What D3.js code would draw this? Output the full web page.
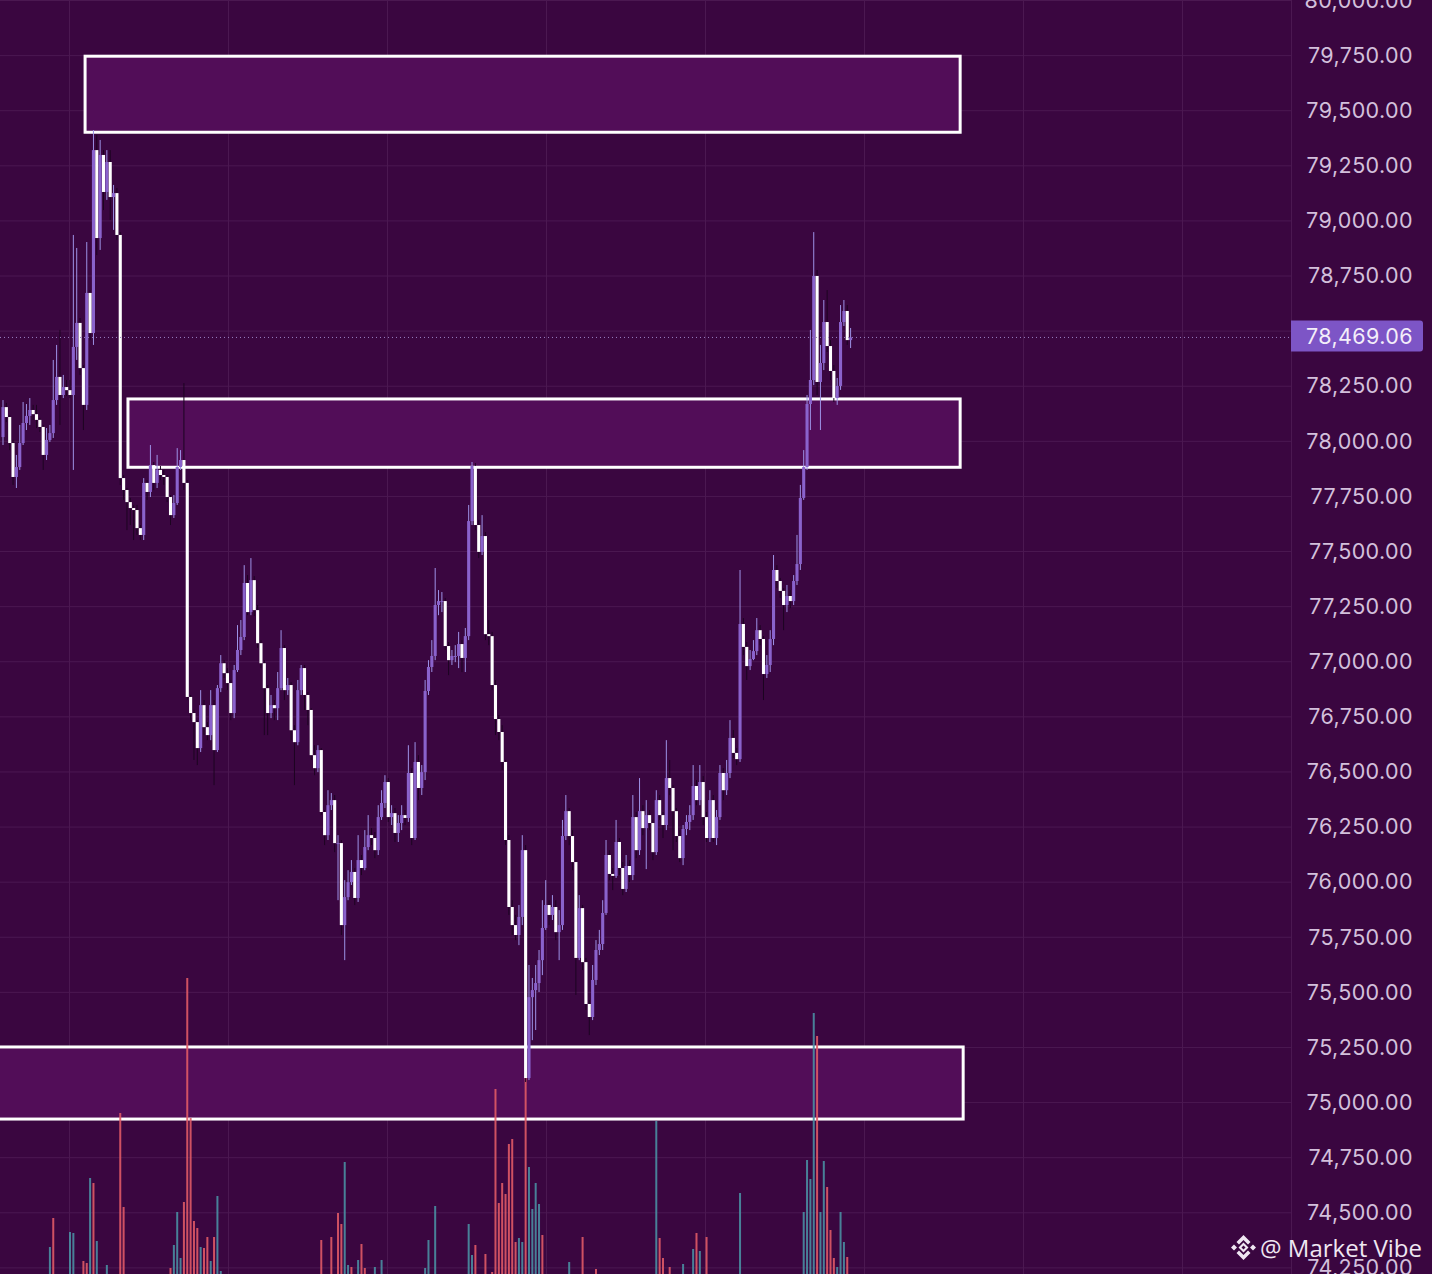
<!DOCTYPE html>
<html>
<head>
<meta charset="utf-8">
<script src="https://cdn.jsdelivr.net/npm/d3@7"></script>
<style>
  html, body { margin: 0; padding: 0; background: #3a0640; overflow: hidden; }
  svg { display: block; }
</style>
</head>
<body>
<div id="chart"></div>
<script>
/*************************/
/* CONSTANTS AND GLOBALS */
/*************************/
const width = 1432;
const height = 1274;
const axisLeft = 1291;      // price scale panel starts here
const plotRight = 1291;

/* price axis ticks */
const tickPrices = [80000, 79750, 79500, 79250, 79000, 78750, 78500, 78250, 78000, 77750,
  77500, 77250, 77000, 76750, 76500, 76250, 76000, 75750, 75500, 75250, 75000, 74750, 74500, 74250];

const lastPrice = 78469.06;
const firstOpen = 78017;

/* candles: close, high, low (open = previous close) */
const closes = [78153, 78108, 77990, 77836, 77881, 77990, 78081, 78113, 78140, 78121,
  78095, 78063, 77936, 78004, 78035, 78185, 78290, 78208, 78244, 78230,
  78208, 78426, 78535, 78330, 78163, 78671, 78489, 79319, 78920, 79297,
  79129, 79265, 79106, 79124, 78934, 77831, 77777, 77722, 77695, 77686,
  77604, 77573, 77809, 77768, 77890, 77809, 77868, 77845, 77836, 77745,
  77663, 77718, 77881, 77913, 77809, 76838, 76765, 76724, 76606, 76801,
  76701, 76665, 76801, 76597, 76878, 76991, 76946, 76901, 76765, 76960,
  77051, 77110, 77355, 77223, 77368, 77232, 77082, 76991, 76878, 76765,
  76801, 76787, 76878, 77060, 76869, 76892, 76687, 76633, 76869, 76969,
  76847, 76779, 76574, 76515, 76597, 76316, 76211, 76347, 76370, 76175,
  76175, 75803, 75930, 75998, 76044, 75926, 76098, 76062, 76157, 76211,
  76198, 76143, 76293, 76357, 76452, 76293, 76311, 76221, 76266, 76302,
  76289, 76493, 76198, 76543, 76425, 76497, 76865, 76974, 77024, 77255,
  77273, 77273, 77069, 77005, 77024, 77024, 77078, 77015, 77114, 77636,
  77886, 77618, 77496, 77568, 77123, 77114, 76892, 76738, 76679, 76543,
  76189, 75885, 75803, 75758, 75840, 76143, 75109, 75476, 75508, 75540,
  75644, 75790, 75894, 75849, 75885, 75771, 75803, 76207, 76320, 76207,
  76089, 75654, 75880, 75635, 75445, 75386, 75554, 75690, 75717, 75858,
  76121, 76035, 76026, 76180, 76062, 75967, 76071, 76030, 76293, 76143,
  76320, 76243, 76302, 76266, 76134, 76370, 76302, 76257, 76470, 76425,
  76320, 76207, 76107, 76239, 76271, 76302, 76434, 76370, 76452, 76293,
  76198, 76370, 76198, 76293, 76493, 76415, 76493, 76652, 76584, 76556,
  77169, 77065, 76978, 77010, 77046, 77141, 77101, 76942, 76983, 77101,
  77414, 77364, 77319, 77255, 77296, 77273, 77364, 77441, 77741, 77881,
  78167, 78276, 78748, 78267, 78353, 78539, 78430, 78317, 78194, 78249,
  78539, 78589, 78457, 78469.06];

const highs = [78185, 78172, 78117, 78004, 77936, 78072, 78176, 78167, 78194, 78163,
  78163, 78104, 78072, 78058, 78072, 78367, 78435, 78503, 78299, 78276,
  78276, 78934, 78875, 78557, 78344, 78902, 78684, 79410, 79388, 79365,
  79319, 79319, 79319, 79161, 79147, 78947, 77845, 77786, 77741, 77709,
  77709, 77618, 77831, 77822, 77981, 77904, 77936, 77886, 77868, 77845,
  77754, 77754, 77967, 77958, 78262, 77822, 76847, 76779, 76733, 76869,
  76824, 76724, 76869, 76824, 76892, 77028, 77005, 76969, 76915, 76983,
  77164, 77187, 77436, 77391, 77468, 77386, 77255, 77096, 77005, 76892,
  76847, 76824, 76951, 77141, 77073, 76924, 76905, 76710, 76915, 76983,
  76983, 76860, 76787, 76619, 76619, 76606, 76325, 76415, 76402, 76393,
  76211, 76189, 76007, 76052, 76098, 76062, 76211, 76121, 76234, 76302,
  76243, 76225, 76347, 76415, 76483, 76470, 76347, 76334, 76302, 76347,
  76325, 76619, 76515, 76633, 76574, 76529, 76915, 77005, 77096, 77423,
  77323, 77314, 77287, 77087, 77051, 77073, 77133, 77096, 77151, 77709,
  77904, 77899, 77641, 77663, 77586, 77187, 77133, 76915, 76756, 76710,
  76552, 76211, 75916, 75849, 75894, 76211, 76166, 75622, 75563, 75622,
  75690, 75916, 76007, 75916, 75939, 75916, 75871, 76280, 76393, 76334,
  76234, 76098, 75939, 75894, 75654, 75463, 75622, 75735, 75781, 75916,
  76189, 76143, 76062, 76280, 76198, 76089, 76121, 76098, 76393, 76316,
  76470, 76347, 76370, 76325, 76280, 76415, 76393, 76316, 76642, 76552,
  76438, 76334, 76234, 76257, 76302, 76347, 76529, 76461, 76529, 76479,
  76316, 76415, 76393, 76325, 76529, 76515, 76552, 76733, 76688, 76606,
  77414, 77196, 77087, 77051, 77096, 77196, 77164, 77114, 77028, 77141,
  77482, 77436, 77378, 77332, 77346, 77323, 77391, 77573, 77800, 77958,
  78208, 78503, 78947, 78775, 78435, 78639, 78684, 78457, 78344, 78285,
  78616, 78639, 78616, 78512];

const lows = [77981, 78085, 77958, 77800, 77786, 77868, 77981, 78049, 78072, 78095,
  78058, 78040, 77868, 77913, 77995, 78013, 78163, 78072, 78194, 78203,
  78194, 77868, 78367, 78299, 78049, 78140, 78457, 78435, 78843, 78866,
  79047, 79093, 79002, 78957, 78911, 77800, 77732, 77595, 77618, 77550,
  77573, 77550, 77550, 77732, 77745, 77777, 77786, 77822, 77800, 77722,
  77618, 77650, 77709, 77868, 77777, 76824, 76733, 76552, 76529, 76588,
  76665, 76642, 76642, 76438, 76588, 76860, 76924, 76869, 76733, 76742,
  76951, 77028, 77096, 77209, 77209, 77205, 77060, 76969, 76665, 76665,
  76742, 76733, 76733, 76869, 76824, 76847, 76642, 76438, 76619, 76847,
  76779, 76710, 76552, 76483, 76497, 76302, 76166, 76189, 76325, 76134,
  75916, 75758, 75644, 75916, 75985, 75894, 75908, 76030, 76052, 76143,
  76166, 76107, 76121, 76280, 76334, 76271, 76257, 76180, 76180, 76234,
  76257, 76271, 76166, 76189, 76370, 76393, 76461, 76847, 76951, 77005,
  77209, 77223, 77051, 76937, 76983, 76996, 76969, 76951, 76951, 77096,
  77618, 77595, 77468, 77482, 77096, 77073, 76869, 76665, 76642, 76506,
  76166, 75849, 75758, 75735, 75712, 75803, 75091, 75100, 75281, 75327,
  75499, 75576, 75781, 75803, 75826, 75735, 75644, 75781, 76189, 76166,
  76052, 75486, 75644, 75599, 75418, 75304, 75372, 75531, 75667, 75690,
  75849, 76007, 75962, 76017, 76030, 75939, 75953, 75998, 76007, 76107,
  76121, 76211, 76057, 76234, 76098, 76121, 76280, 76198, 76234, 76393,
  76143, 76180, 76089, 76075, 76211, 76234, 76280, 76347, 76347, 76257,
  76180, 76180, 76180, 76166, 76280, 76370, 76393, 76470, 76561, 76529,
  76543, 77028, 76915, 76960, 77005, 77028, 77073, 76824, 76924, 76951,
  77073, 77332, 77287, 77141, 77223, 77241, 77255, 77346, 77414, 77732,
  77868, 78049, 78253, 78208, 78049, 78321, 78403, 78276, 78176, 78163,
  78231, 78521, 78435, 78421];

/* volume: [bar index, volume, side] — only the bars tall enough to show */
const volumes = [
  [14, 27, "up"], [15, 56, "down"], [20, 42, "up"], [21, 41, "up"], [24, 13, "down"],
  [25, 11, "down"], [26, 96, "up"], [27, 91, "down"], [28, 33, "up"], [31, 9, "up"],
  [35, 161, "down"], [36, 67, "down"], [50, 6, "down"], [51, 29, "up"], [52, 62, "up"],
  [53, 16, "up"], [54, 72, "down"], [55, 296, "down"], [56, 156, "down"], [57, 53, "down"],
  [58, 46, "down"], [59, 27, "up"], [60, 26, "down"], [61, 37, "down"], [62, 13, "up"],
  [63, 37, "down"], [64, 78, "up"], [65, 3, "up"],
  [95, 34, "down"], [98, 37, "down"], [100, 61, "down"], [101, 50, "down"], [102, 112, "up"],
  [103, 9, "up"], [104, 7, "down"], [106, 14, "up"], [107, 30, "down"], [108, 6, "down"],
  [111, 7, "up"], [113, 14, "up"], [126, 6, "up"], [127, 34, "up"], [129, 68, "up"],
  [139, 50, "up"], [140, 19, "up"], [141, 29, "down"], [144, 20, "down"], [146, 2, "down"],
  [147, 185, "down"], [148, 71, "down"], [149, 91, "down"], [150, 80, "down"], [151, 130, "down"],
  [152, 135, "down"], [153, 32, "down"], [154, 36, "up"], [155, 32, "up"], [156, 196, "down"],
  [157, 107, "up"], [158, 65, "up"], [159, 91, "up"], [160, 70, "up"], [161, 39, "down"],
  [169, 12, "up"], [173, 37, "down"], [177, 5, "down"],
  [195, 153, "up"], [196, 36, "down"], [197, 16, "down"], [199, 7, "down"], [203, 10, "up"],
  [206, 25, "up"], [207, 41, "down"], [208, 23, "up"], [210, 37, "down"], [220, 81, "up"],
  [239, 62, "up"], [240, 114, "up"], [241, 95, "up"], [242, 261, "up"], [243, 238, "down"],
  [244, 62, "up"], [245, 113, "up"], [246, 87, "down"], [247, 44, "down"], [248, 16, "down"],
  [249, 7, "up"], [250, 62, "up"], [251, 32, "up"], [252, 17, "down"]
];

/* supply / demand zones: bar range and price range */
const zones = [
  { from: 24.5, to: 285.7, low: 79400, high: 79745 },
  { from: 37.3, to: 285.7, low: 77880, high: 78190 },
  { from: -2,   to: 286.6, low: 74923, high: 75250 }
];

/* vertical time grid, in bar index */
const timeGrid = [19.7, 67.2, 114.6, 162.1, 209.6, 257.0, 304.5, 352.0];

/* colours */
const bgColor = "#3a0640";
const gridColor = "#4b1851";
const zoneFill = "#520d58";
const upBody = "#8a62cc";
const upWick = "#9d92e6";
const downBody = "#ffffff";
const downWick = "#1c0420";
const volUp = "#4a8ea2";
const volDown = "#e05a66";
const labelColor = "#d3c0dc";
const tagColor = "#7d55c6";


/************************/
/*        DATA          */
/************************/
const candles = closes.map((c, i) => ({
  i: i,
  open: i === 0 ? firstOpen : closes[i - 1],
  high: highs[i],
  low: lows[i],
  close: c
}));


/************************/
/*       SCALES         */
/************************/
const xScale = d3.scaleLinear()
  .domain([0, candles.length - 1])
  .range([3, 850.6]);

const yScale = d3.scaleLinear()
  .domain([74220, 80000])
  .range([height, 0]);

const volScale = d3.scaleLinear()
  .domain([0, 300])
  .range([height, height - 300]);

const fmt = d3.format(",.2f");


/************************/
/*        SVG           */
/************************/
const svg = d3.select("#chart")
  .append("svg")
  .attr("width", width)
  .attr("height", height)
  .attr("viewBox", `0 0 ${width} ${height}`);

svg.append("rect")
  .attr("width", width)
  .attr("height", height)
  .attr("fill", bgColor);

const plot = svg.append("g").attr("class", "plot");

/* grid */
plot.selectAll("line.hgrid")
  .data(tickPrices)
  .join("line")
  .attr("class", "hgrid")
  .attr("x1", 0)
  .attr("x2", plotRight)
  .attr("y1", d => yScale(d) + 0.5)
  .attr("y2", d => yScale(d) + 0.5)
  .attr("stroke", gridColor)
  .attr("stroke-width", 1);

plot.selectAll("line.vgrid")
  .data(timeGrid)
  .join("line")
  .attr("class", "vgrid")
  .attr("x1", d => Math.round(xScale(d)) + 0.5)
  .attr("x2", d => Math.round(xScale(d)) + 0.5)
  .attr("y1", 0)
  .attr("y2", height)
  .attr("stroke", gridColor)
  .attr("stroke-width", 1);

/* zones (drawn under the series) */
plot.selectAll("rect.zone")
  .data(zones)
  .join("rect")
  .attr("class", "zone")
  .attr("x", d => xScale(d.from))
  .attr("y", d => yScale(d.high))
  .attr("width", d => xScale(d.to) - xScale(d.from))
  .attr("height", d => yScale(d.low) - yScale(d.high))
  .attr("fill", zoneFill)
  .attr("stroke", "#ffffff")
  .attr("stroke-width", 3);

/* volume */
plot.selectAll("rect.vol")
  .data(volumes)
  .join("rect")
  .attr("class", "vol")
  .attr("x", d => xScale(d[0]) - 1)
  .attr("y", d => volScale(d[1]))
  .attr("width", 2)
  .attr("height", d => height - volScale(d[1]))
  .attr("fill", d => d[2] === "up" ? volUp : volDown)
  .attr("opacity", 0.9);

/* candles */
const bodyW = 3.1;

plot.selectAll("line.wick")
  .data(candles)
  .join("line")
  .attr("class", "wick")
  .attr("x1", d => xScale(d.i))
  .attr("x2", d => xScale(d.i))
  .attr("y1", d => yScale(d.high))
  .attr("y2", d => yScale(d.low))
  .attr("stroke", d => d.close >= d.open ? upWick : downWick)
  .attr("stroke-width", 1);

plot.selectAll("rect.body")
  .data(candles)
  .join("rect")
  .attr("class", "body")
  .attr("x", d => xScale(d.i) - bodyW / 2)
  .attr("y", d => yScale(Math.max(d.open, d.close)))
  .attr("width", bodyW)
  .attr("height", d => Math.max(1, Math.abs(yScale(d.open) - yScale(d.close))))
  .attr("fill", d => d.close >= d.open ? upBody : downBody);

/* last price line */
plot.append("line")
  .attr("x1", 0)
  .attr("x2", plotRight)
  .attr("y1", yScale(lastPrice))
  .attr("y2", yScale(lastPrice))
  .attr("stroke", "#9a80c2")
  .attr("stroke-width", 1)
  .attr("stroke-dasharray", "1,3");


/************************/
/*     PRICE AXIS       */
/************************/
const axis = svg.append("g").attr("class", "price-axis");

axis.append("rect")
  .attr("x", axisLeft)
  .attr("y", 0)
  .attr("width", width - axisLeft)
  .attr("height", height)
  .attr("fill", bgColor);

axis.append("line")
  .attr("x1", axisLeft + 0.5)
  .attr("x2", axisLeft + 0.5)
  .attr("y1", 0)
  .attr("y2", height)
  .attr("stroke", gridColor);

axis.selectAll("text.tick")
  .data(tickPrices)
  .join("text")
  .attr("class", "tick")
  .attr("x", 1413)
  .attr("y", d => yScale(d))
  .attr("dy", "0.36em")
  .attr("text-anchor", "end")
  .attr("fill", labelColor)
  .style("font-family", "Inter, 'Noto Sans', sans-serif")
  .style("font-size", "21.5px")
  .style("letter-spacing", "0.4px")
  .text(d => fmt(d));

/* last price tag */
const tagH = 31;
axis.append("path")
  .attr("d", () => {
    const y0 = yScale(lastPrice) - tagH / 2 - 1.5;
    const x0 = axisLeft, x1 = 1423, r = 3;
    return `M${x0},${y0} H${x1 - r} Q${x1},${y0} ${x1},${y0 + r} V${y0 + tagH - r} Q${x1},${y0 + tagH} ${x1 - r},${y0 + tagH} H${x0} Z`;
  })
  .attr("fill", tagColor);

axis.append("text")
  .attr("x", 1413)
  .attr("y", yScale(lastPrice) - 1.5)
  .attr("dy", "0.36em")
  .attr("text-anchor", "end")
  .attr("fill", "#f4eefa")
  .style("font-family", "Inter, 'Noto Sans', sans-serif")
  .style("font-size", "21.5px")
  .style("letter-spacing", "0.4px")
  .text(fmt(lastPrice));


/************************/
/*      WATERMARK       */
/************************/
const mark = svg.append("g")
  .attr("class", "watermark")
  .attr("transform", "translate(1243.5, 1247.5)");

// simplified exchange logo: chevrons, side diamonds, hollow centre
mark.append("path")
  .attr("d", "M-7,-5.5 L0,-12.5 L7,-5.5 L4.5,-3 L0,-7.5 L-4.5,-3 Z M-7,5.5 L0,12.5 L7,5.5 L4.5,3 L0,7.5 L-4.5,3 Z " +
             "M-12.5,0 L-9.5,-3 L-6.5,0 L-9.5,3 Z M12.5,0 L9.5,-3 L6.5,0 L9.5,3 Z " +
             "M0,-5 L5,0 L0,5 L-5,0 Z M0,-2 L-2,0 L0,2 L2,0 Z")
  .attr("fill", "#efe6f2")
  .attr("fill-rule", "evenodd");

svg.append("text")
  .attr("x", 1422)
  .attr("y", 1257)
  .attr("text-anchor", "end")
  .attr("fill", "#efe6f2")
  .style("font-family", "'Open Sans', 'Noto Sans', sans-serif")
  .style("font-size", "24px")
  .text("@ Market Vibe");
</script>
</body>
</html>
